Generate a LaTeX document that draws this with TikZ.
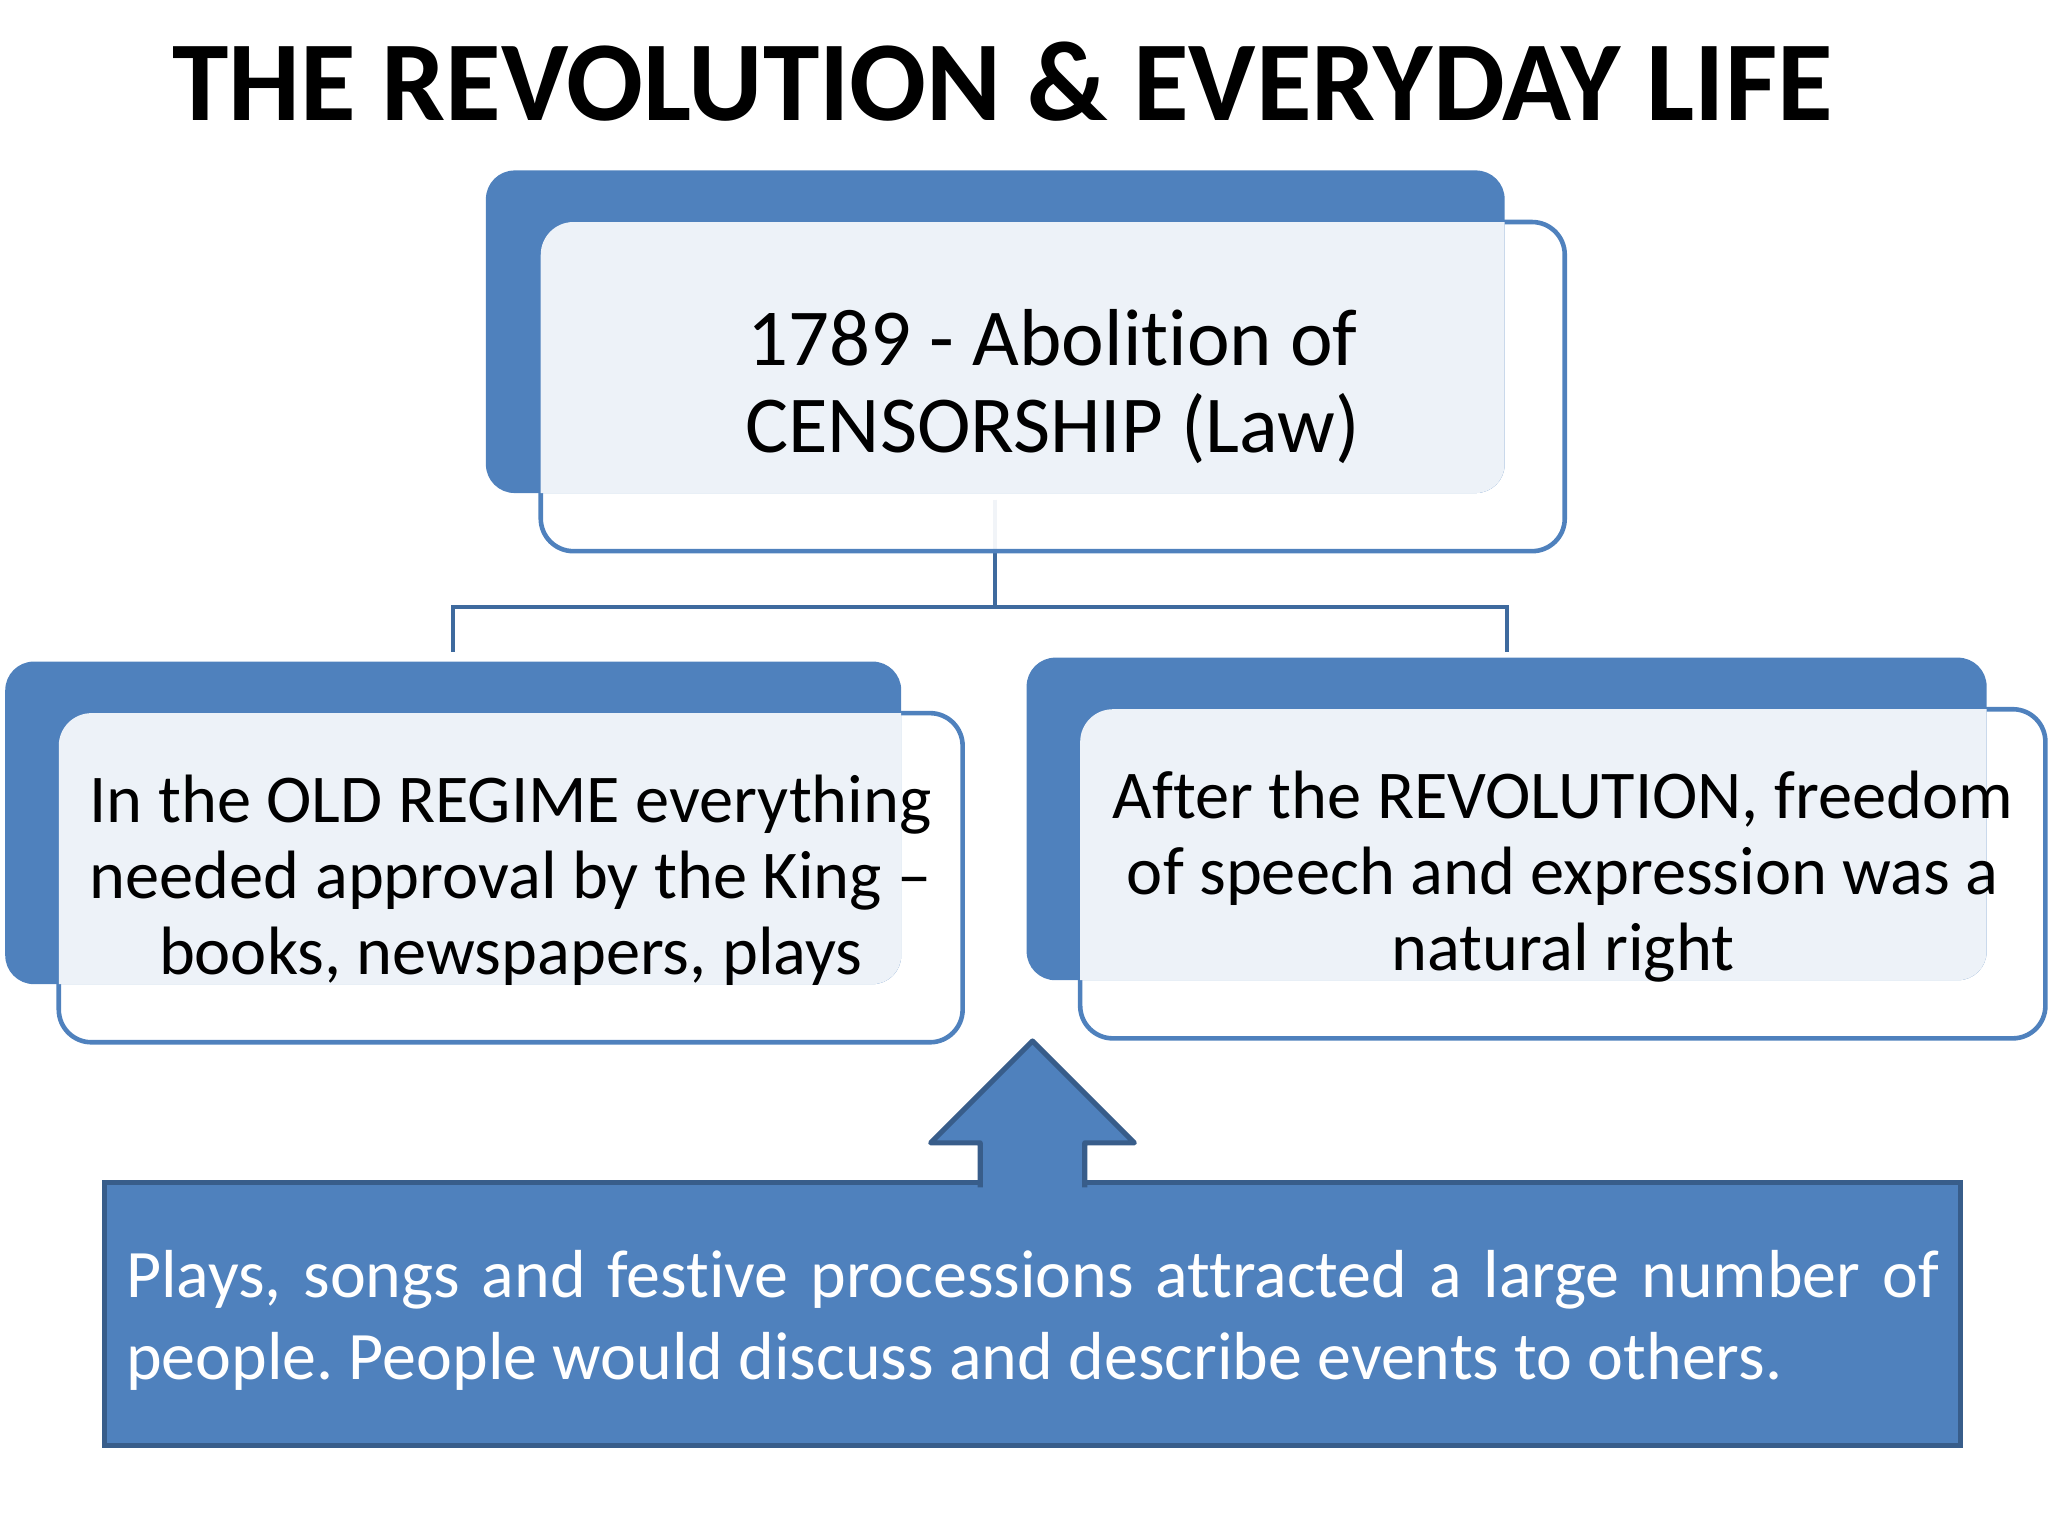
\documentclass[tikz,border=0pt]{standalone}
\usepackage{fontspec}
\setmainfont{Carlito}[Ligatures={NoCommon}]
\usetikzlibrary{calc,positioning}
\pgfdeclarelayer{back}
\pgfsetlayers{back,main}
\definecolor{tierblue}{HTML}{4F81BD}
\definecolor{tierpale}{HTML}{EDF2F8}
\definecolor{tierline}{HTML}{3E6A9E}
\definecolor{notedark}{HTML}{385D8A}
\tikzset{
  tier back/.style={fill=tierblue, rounded corners=0.22cm, inner sep=0pt, outer sep=0pt,
    minimum width=#1, minimum height=2.47cm},
  tier front/.style={draw=tierblue, line width=1pt, fill=white, fill opacity=0.93,
    rounded corners=0.25cm, inner sep=0pt, outer sep=0pt, minimum width=#1, minimum height=2.52cm},
  tier text/.style={align=center, inner sep=0pt, text=black},
  tier link/.style={draw=tierline, line width=0.9pt},
  note box/.style={fill=tierblue, draw=notedark, line width=1.1pt, inner sep=0pt, outer sep=0pt,
    minimum width=14.21cm, minimum height=2.02cm},
  note arrow/.style={fill=tierblue, draw=notedark, line width=1.1pt, line join=round}
}

\begin{document}
\frenchspacing
\begin{tikzpicture}
  \useasboundingbox (0,0) rectangle (15.68,-11.76);

  \node[font=\bfseries\fontsize{24.8}{30}\selectfont, anchor=base] (title) at (7.675,-0.92) {THE REVOLUTION \& EVERYDAY LIFE};

  % three tiers: front frame first, blue back card over it
  \node[tier front=7.84cm] (law_front) at (8.06,-2.96) {};
  \node[tier back=7.80cm] (law_back) at (7.62,-2.54) {};
  \node[tier front=6.92cm] (regime_front) at (3.91,-6.72) {};
  \node[tier back=6.86cm] (regime_back) at (3.47,-6.30) {};
  \node[tier front=7.39cm] (freedom_front) at (11.965,-6.69) {};
  \node[tier back=7.35cm] (freedom_back) at (11.535,-6.27) {};

  \foreach \tier in {law,regime,freedom}
  {
    \begin{scope}
      \clip[rounded corners=0.22cm] (\tier_back.south west) rectangle (\tier_back.north east);
      \fill[tierpale, rounded corners=0.25cm] (\tier_front.south west) rectangle (\tier_front.north east);
    \end{scope}
  }

  \node[tier text, font=\fontsize{17.6}{18.8}\selectfont] (law_text) at (law_front) {1789 - Abolition of\\CENSORSHIP (Law)};
  \node[tier text, font=\fontsize{14.9}{16.5}\selectfont] (regime_text) at ([yshift=-0.02cm]regime_front) {In the OLD REGIME everything\\needed approval by the King –\\books, newspapers, plays};
  \node[tier text, font=\fontsize{14.9}{16.5}\selectfont] (freedom_text) at ([yshift=-0.02cm]freedom_front) {After the REVOLUTION, freedom\\of speech and expression was a\\natural right};

  \begin{pgfonlayer}{back}
    \coordinate (fork) at ($(law_back.south)+(0,-0.87)$);
    \draw[tier link] ([yshift=-0.05cm]law_back.south) -- (fork) -| ([yshift=0.07cm]regime_back.north);
    \draw[tier link] (fork) -| ([yshift=0.04cm]freedom_back.north);
  \end{pgfonlayer}

  % bottom note with its arrow
  \node[note box] (plays) at (7.905,-10.06) {};
  \filldraw[note arrow] ($(plays.north)+(-0.40,-0.04)$) -- ($(plays.north)+(-0.40,0.30)$)
    -- ($(plays.north)+(-0.78,0.30)$) -- ($(plays.north)+(0,1.08)$)
    -- ($(plays.north)+(0.78,0.30)$) -- ($(plays.north)+(0.40,0.30)$)
    -- ($(plays.north)+(0.40,-0.04)$);
  \node[text width=13.88cm, align=justify, inner sep=0pt, text=white,
    font=\fontsize{14.8}{17.9}\selectfont] (plays_text) at ([yshift=-0.05cm]plays) {Plays, songs and festive processions attracted a large number of\linebreak people. People would discuss and describe events to others.};
\end{tikzpicture}
\end{document}
